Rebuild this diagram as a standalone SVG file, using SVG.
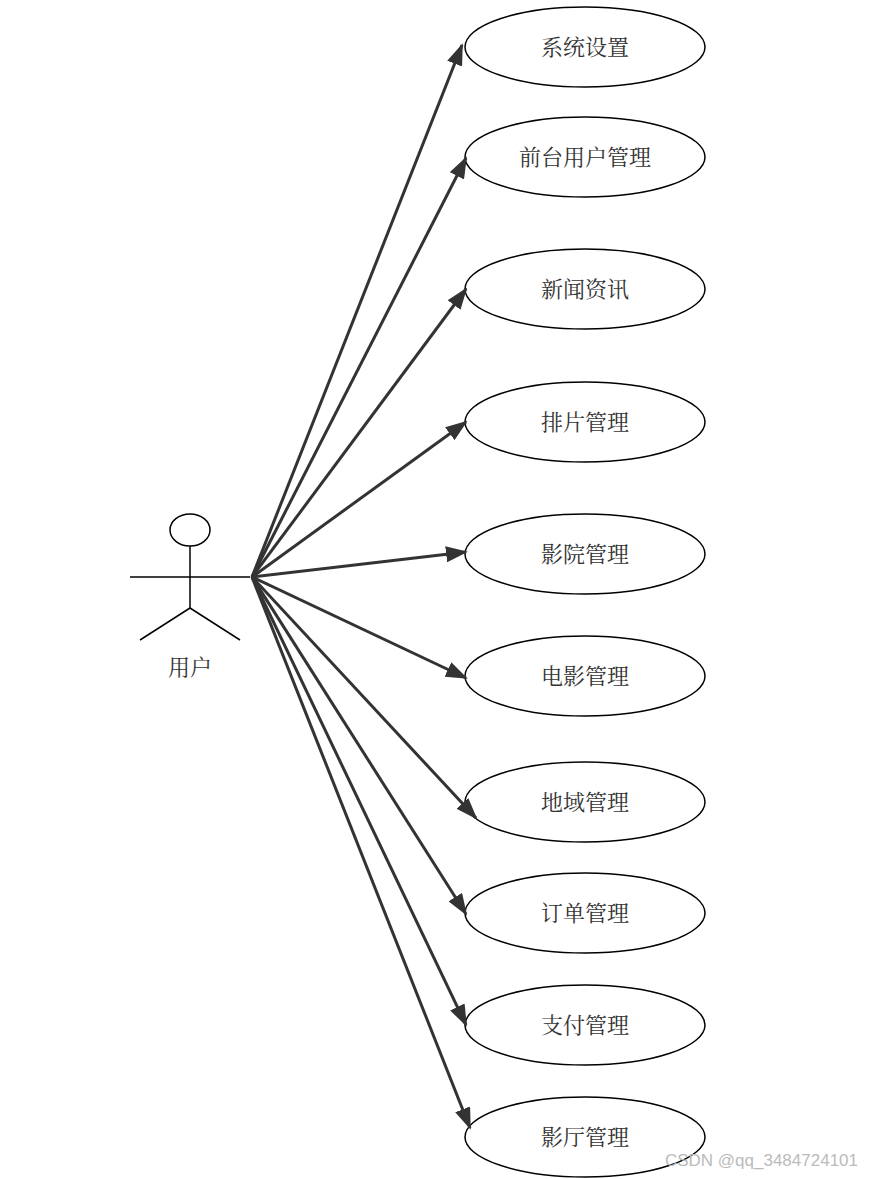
<svg xmlns="http://www.w3.org/2000/svg" width="874" height="1179" viewBox="0 0 874 1179">
<defs>
<marker id="ah" markerWidth="22" markerHeight="16" refX="20" refY="8" orient="auto" markerUnits="userSpaceOnUse" viewBox="0 0 22 16"><path d="M0,0 L22,8 L0,16 Z" fill="#333"/></marker>
<style>
.uc ellipse{fill:#fff;stroke:#000;stroke-width:1.5}
text{font-family:"Noto Serif CJK SC","Noto Sans CJK SC",serif;font-size:22px;fill:#333;text-anchor:middle}
.c line{stroke:#333;stroke-width:3}
</style>
</defs>
<rect width="874" height="1179" fill="#fff"/>
<g id="actor" fill="none" stroke="#000" stroke-width="1.5">
<ellipse cx="190" cy="530" rx="20" ry="16"/>
<line x1="190" y1="546" x2="190" y2="608"/>
<line x1="130" y1="577" x2="250" y2="577"/>
<line x1="190" y1="608" x2="140" y2="640"/>
<line x1="190" y1="608" x2="240" y2="640"/>
<text x="190" y="675" stroke="none">用户</text>
</g>
<g id="uc1" class="uc"><ellipse cx="585" cy="47" rx="120" ry="40"/><text x="585" y="55">系统设置</text></g>
<g id="uc2" class="uc"><ellipse cx="585" cy="157" rx="120" ry="40"/><text x="585" y="165">前台用户管理</text></g>
<g id="uc3" class="uc"><ellipse cx="585" cy="289" rx="120" ry="40"/><text x="585" y="297">新闻资讯</text></g>
<g id="uc4" class="uc"><ellipse cx="585" cy="422" rx="120" ry="40"/><text x="585" y="430">排片管理</text></g>
<g id="uc5" class="uc"><ellipse cx="585" cy="554" rx="120" ry="40"/><text x="585" y="562">影院管理</text></g>
<g id="uc6" class="uc"><ellipse cx="585" cy="676" rx="120" ry="40"/><text x="585" y="684">电影管理</text></g>
<g id="uc7" class="uc"><ellipse cx="585" cy="802" rx="120" ry="40"/><text x="585" y="810">地域管理</text></g>
<g id="uc8" class="uc"><ellipse cx="585" cy="913" rx="120" ry="40"/><text x="585" y="921">订单管理</text></g>
<g id="uc9" class="uc"><ellipse cx="585" cy="1025" rx="120" ry="40"/><text x="585" y="1033">支付管理</text></g>
<g id="uc10" class="uc"><ellipse cx="585" cy="1137" rx="120" ry="40"/><text x="585" y="1145">影厅管理</text></g>
<g id="connectors" class="c">
<line x1="252" y1="577" x2="462" y2="45" marker-end="url(#ah)"/>
<line x1="252" y1="577" x2="466" y2="158" marker-end="url(#ah)"/>
<line x1="252" y1="577" x2="466" y2="289" marker-end="url(#ah)"/>
<line x1="252" y1="577" x2="466" y2="422" marker-end="url(#ah)"/>
<line x1="252" y1="577" x2="466" y2="552" marker-end="url(#ah)"/>
<line x1="252" y1="577" x2="466" y2="678" marker-end="url(#ah)"/>
<line x1="252" y1="577" x2="476" y2="818" marker-end="url(#ah)"/>
<line x1="252" y1="577" x2="466" y2="914" marker-end="url(#ah)"/>
<line x1="252" y1="577" x2="466" y2="1025" marker-end="url(#ah)"/>
<line x1="252" y1="577" x2="470" y2="1128" marker-end="url(#ah)"/>
</g>
<text x="858" y="1166" style="font-family:'Liberation Sans',sans-serif;font-size:17px;fill:#bbb;text-anchor:end">CSDN @qq_3484724101</text>
</svg>
